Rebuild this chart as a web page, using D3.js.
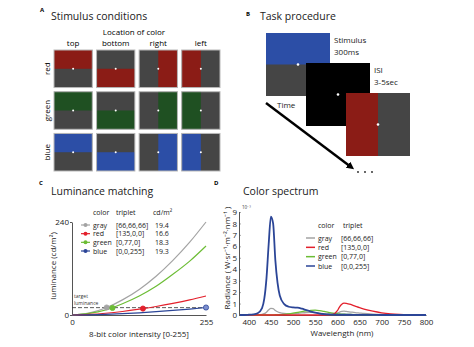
<!DOCTYPE html>
<html>
<head>
<meta charset="utf-8">
<script src="https://cdn.jsdelivr.net/npm/d3@7"></script>
<style>
  body { margin: 0; background: #fff; }
  svg { display: block; font-family: "Open Sans", sans-serif; }
</style>
</head>
<body>
<svg id="fig" width="474" height="347"></svg>
<script>
// ---------- data ----------
const stimRows = ["red", "green", "blue"];
const stimCols = ["top", "bottom", "right", "left"];

const seqFrames = ["stimulus", "isi", "stimulus"];
const seqColors = ["blue", "black", "red"];
const seqLocations = ["top", "full", "left"];
const seqLabels = [["Stimulus", "300ms"], ["ISI", "3-5sec"], []];

const lumIntensity = [0, 32, 64, 96, 128, 160, 192, 224, 255];
const lumGray  = [0, 5, 18, 39, 66, 100, 141, 188, 240];
const lumRed   = [0, 1.5, 4.5, 9, 15, 22, 30, 39, 49];
const lumGreen = [0, 4, 13, 29, 49, 74, 105, 139, 178];
const lumBlue  = [0, 0.5, 1.6, 3.3, 5.6, 8.5, 11.8, 15.4, 19.3];
const lumTicksX = [0, 255];
const lumTicksY = [0, 240];
const targetLum = 19;

const colorNames = ["gray", "red", "green", "blue"];
const colorTriplets = ["[66,66,66]", "[135,0,0]", "[0,77,0]", "[0,0,255]"];
const matchLum = [19.4, 16.6, 18.3, 19.3];
const matchIntensity = [66, 135, 77, 255];

const wavelengths = [380, 390, 400, 410, 420, 430, 435, 440, 445, 450, 455, 460, 465, 470, 480,
  490, 500, 510, 520, 530, 540, 550, 560, 570, 580, 590, 600, 605, 610, 615, 620, 630, 640, 650,
  660, 680, 700, 720, 740, 760, 780, 800];
const specGray = [0, 0, 0, 0.01, 0.02, 0.06, 0.12, 0.25, 0.45, 0.58, 0.55, 0.4, 0.28, 0.2, 0.13,
  0.11, 0.12, 0.15, 0.19, 0.22, 0.23, 0.21, 0.17, 0.12, 0.09, 0.1, 0.18, 0.26, 0.31, 0.33, 0.31, 0.26,
  0.21, 0.17, 0.13, 0.08, 0.05, 0.03, 0.02, 0.01, 0, 0];
const specRed = [0, 0, 0, 0, 0, 0, 0, 0, 0, 0, 0, 0, 0, 0, 0,
  0, 0, 0, 0, 0, 0, 0, 0, 0, 0.01, 0.06, 0.38, 0.72, 0.95, 1.04, 1.02, 0.92,
  0.78, 0.64, 0.52, 0.33, 0.19, 0.1, 0.05, 0.02, 0.01, 0];
const specGreen = [0, 0, 0, 0, 0, 0, 0, 0, 0.01, 0.01, 0.01, 0.02, 0.02, 0.03, 0.06,
  0.1, 0.16, 0.23, 0.3, 0.36, 0.41, 0.42, 0.38, 0.31, 0.23, 0.16, 0.11, 0.09, 0.08, 0.07, 0.06, 0.05,
  0.04, 0.03, 0.03, 0.02, 0.01, 0.01, 0, 0, 0, 0];
const specBlue = [0, 0, 0.02, 0.05, 0.15, 0.6, 1.4, 3.2, 6.2, 8.6, 8.0, 4.8, 2.8, 1.7, 0.95,
  0.72, 0.66, 0.64, 0.55, 0.42, 0.3, 0.2, 0.12, 0.08, 0.05, 0.03, 0.02, 0.02, 0.02, 0.02, 0.02, 0.02,
  0.01, 0.01, 0.01, 0.01, 0, 0, 0, 0, 0, 0];
const specTicksX = [400, 450, 500, 550, 600, 650, 700, 750, 800];
const specTicksY = [0, 1, 2, 3, 4, 5, 6, 7, 8, 9];

// colours
const stimFill = { red: "#8b1c16", green: "#1f5022", blue: "#2c4ea6", gray: "#454545", black: "#000" };
const lineColor = { gray: "#a3a3a3", red: "#e3202c", green: "#6cbd35", blue: "#2b4597" };

const svg = d3.select("#fig");

// helper: the coloured part of a screen
function colorPart(loc, w, h) {
  if (loc === "top") return { x: 0, y: 0, w: w, h: h / 2 };
  if (loc === "bottom") return { x: 0, y: h / 2, w: w, h: h / 2 };
  if (loc === "right") return { x: w / 2, y: 0, w: w / 2, h: h };
  if (loc === "left") return { x: 0, y: 0, w: w / 2, h: h };
  return { x: 0, y: 0, w: w, h: h };
}

function panelTitle(letter, lx, ly, title, tx, ty) {
  svg.append("text").attr("x", lx).attr("y", ly).attr("font-size", 6).attr("font-weight", "bold").text(letter);
  svg.append("text").attr("x", tx).attr("y", ty).attr("font-size", 10.5).attr("fill", "#222").text(title);
}

function styleAxis(g) {
  g.selectAll("text").attr("font-size", 8).attr("font-family", "Open Sans").attr("fill", "#222");
  g.selectAll("line, .domain").attr("stroke", "#555");
}

// ---------- A: stimulus conditions ----------
panelTitle("A", 40, 12, "Stimulus conditions", 51, 20);

const ax = d3.scaleBand().domain(stimCols).range([54, 220]).paddingInner(0.1);
const ay = d3.scaleBand().domain(stimRows).range([50, 171]).paddingInner(0.1);

svg.append("text").attr("x", 134).attr("y", 35).attr("text-anchor", "middle")
  .attr("font-size", 8).text("Location of color");

svg.selectAll("text.colname").data(stimCols).join("text")
  .attr("class", "colname")
  .attr("x", d => ax(d) + ax.bandwidth() / 2)
  .attr("y", 46)
  .attr("text-anchor", "middle")
  .attr("font-size", 8)
  .text(d => d);

svg.selectAll("text.rowname").data(stimRows).join("text")
  .attr("class", "rowname")
  .attr("transform", d => `translate(50,${ay(d) + ay.bandwidth() / 2}) rotate(-90)`)
  .attr("text-anchor", "middle")
  .attr("font-size", 8)
  .text(d => d);

const cells = stimRows.flatMap(r => stimCols.map(c => ({ row: r, col: c })));
const cell = svg.selectAll("g.cell").data(cells).join("g")
  .attr("class", "cell")
  .attr("transform", d => `translate(${ax(d.col)},${ay(d.row)})`);

const cw = ax.bandwidth(), ch = ay.bandwidth();
cell.append("rect").attr("width", cw).attr("height", ch).attr("fill", stimFill.gray);
cell.append("rect")
  .each(function(d) {
    const p = colorPart(d.col, cw, ch);
    d3.select(this).attr("x", p.x).attr("y", p.y).attr("width", p.w).attr("height", p.h);
  })
  .attr("fill", d => stimFill[d.row]);
cell.append("rect").attr("width", cw).attr("height", ch)
  .attr("fill", "none").attr("stroke", "#b8b8b8").attr("stroke-width", 1);
cell.append("circle").attr("cx", cw / 2).attr("cy", ch / 2).attr("r", 1).attr("fill", "#fff");

// ---------- B: task procedure ----------
panelTitle("B", 246, 16, "Task procedure", 260, 20);

const bx = d3.scaleLinear().domain([0, 2]).range([266, 346]);
const by = d3.scaleLinear().domain([0, 2]).range([33, 93]);
const fw = 64, fh = 63;

const frames = seqFrames.map((f, i) => ({ frame: f, color: seqColors[i], loc: seqLocations[i], label: seqLabels[i], i: i }));
const frame = svg.selectAll("g.frame").data(frames).join("g")
  .attr("class", "frame")
  .attr("transform", d => `translate(${bx(d.i)},${by(d.i)})`);

frame.append("rect").attr("width", fw).attr("height", fh)
  .attr("fill", d => d.frame === "isi" ? stimFill.black : stimFill.gray);
frame.append("rect")
  .each(function(d) {
    const p = colorPart(d.loc, fw, fh);
    d3.select(this).attr("x", p.x).attr("y", p.y).attr("width", p.w).attr("height", p.h);
  })
  .attr("fill", d => stimFill[d.color]);
frame.append("circle").attr("cx", fw / 2).attr("cy", fh / 2).attr("r", 1.3).attr("fill", "#fff");

frame.selectAll("text").data(d => d.label).join("text")
  .attr("x", fw + 4)
  .attr("y", (d, j) => 10 + j * 12)
  .attr("font-size", 8)
  .attr("fill", "#222")
  .text(d => d);

// time arrow
svg.append("defs").append("marker")
  .attr("id", "arrow").attr("viewBox", "0 0 10 10").attr("refX", 5).attr("refY", 5)
  .attr("markerWidth", 3.2).attr("markerHeight", 3.2).attr("orient", "auto")
  .append("path").attr("d", "M0,0L10,5L0,10z").attr("fill", "#000");
svg.append("line")
  .attr("x1", bx(0)).attr("y1", by(0) + fh + 7)
  .attr("x2", 351).attr("y2", 167)
  .attr("stroke", "#000").attr("stroke-width", 2.4)
  .attr("marker-end", "url(#arrow)");
svg.append("text").attr("x", 277).attr("y", 108).attr("font-size", 8).attr("fill", "#222").text("Time");
svg.selectAll("circle.more").data([0, 1, 2]).join("circle")
  .attr("class", "more")
  .attr("cx", d => 358 + d * 7).attr("cy", 172).attr("r", 0.9).attr("fill", "#222");

// ---------- C: luminance matching ----------
panelTitle("C", 39, 185, "Luminance matching", 51, 195);

const cx = d3.scaleLinear().domain([0, 255]).range([72, 206]);
const cy = d3.scaleLinear().domain([0, 240]).range([315, 222]);

svg.append("g").attr("transform", "translate(0,315)")
  .call(d3.axisBottom(cx).tickValues(lumTicksX).tickSize(0).tickPadding(4))
  .call(styleAxis);
svg.append("g").attr("transform", "translate(72,0)")
  .call(d3.axisLeft(cy).tickValues(lumTicksY).tickSizeInner(2).tickSizeOuter(0).tickPadding(1))
  .call(styleAxis);

svg.append("text").attr("x", 139).attr("y", 337).attr("text-anchor", "middle")
  .attr("font-size", 8).attr("fill", "#222").text("8-bit color intensity [0-255]");
svg.append("text").attr("transform", "translate(56,266) rotate(-90)").attr("text-anchor", "middle")
  .attr("font-size", 8).attr("fill", "#222").text("luminance (cd/m²)");

// target luminance
svg.append("line").attr("x1", cx(0)).attr("x2", cx(255)).attr("y1", cy(targetLum)).attr("y2", cy(targetLum))
  .attr("stroke", "#333").attr("stroke-width", 0.8).attr("stroke-dasharray", "4,2");
svg.append("text").attr("x", 74).attr("y", 298).attr("font-size", 5).attr("fill", "#333").text("target");
svg.append("text").attr("x", 74).attr("y", 305).attr("font-size", 5).attr("fill", "#333").text("luminance");

const lumSeries = [lumGray, lumRed, lumGreen, lumBlue];
const lumLine = d3.line().x((d, i) => cx(lumIntensity[i])).y(d => cy(d)).curve(d3.curveMonotoneX);
const lumOrder = [0, 2, 1, 3];
svg.selectAll("path.lum").data(lumOrder).join("path")
  .attr("class", "lum")
  .attr("d", k => lumLine(lumSeries[k]))
  .attr("fill", "none")
  .attr("stroke", k => lineColor[colorNames[k]])
  .attr("stroke-width", 1.2);

svg.selectAll("circle.match").data(colorNames).join("circle")
  .attr("class", "match")
  .attr("cx", (d, i) => cx(matchIntensity[i]))
  .attr("cy", (d, i) => cy(matchLum[i]))
  .attr("r", 2.6)
  .attr("fill", d => d === "blue" ? "#7d8fcf" : lineColor[d])
  .attr("stroke", d => lineColor[d])
  .attr("stroke-width", 0.8);

// legend C
const legC = svg.append("g").attr("font-size", 7).attr("fill", "#222");
legC.append("text").attr("x", 93).attr("y", 215).text("color");
legC.append("text").attr("x", 116).attr("y", 215).text("triplet");
legC.append("text").attr("x", 153).attr("y", 215).text("cd/m²");
const lcy = d3.scaleLinear().domain([0, 3]).range([225, 251]);
colorNames.forEach((c, i) => {
  const y = lcy(i);
  legC.append("line").attr("x1", 81).attr("x2", 90).attr("y1", y).attr("y2", y)
    .attr("stroke", lineColor[c]).attr("stroke-width", 1.2);
  legC.append("circle").attr("cx", 85.5).attr("cy", y).attr("r", 2).attr("fill", lineColor[c]);
  legC.append("text").attr("x", 93).attr("y", y + 2.5).text(c);
  legC.append("text").attr("x", 116).attr("y", y + 2.5).text(colorTriplets[i]);
  legC.append("text").attr("x", 155).attr("y", y + 2.5).text(matchLum[i].toFixed(1));
});

// ---------- D: color spectrum ----------
panelTitle("D", 214, 185, "Color spectrum", 243, 195);

const dx = d3.scaleLinear().domain([378, 800]).range([239, 426]);
const dy = d3.scaleLinear().domain([0, 9]).range([315, 212]);

svg.append("g").attr("transform", "translate(0,315)")
  .call(d3.axisBottom(dx).tickValues(specTicksX).tickSize(0).tickPadding(4))
  .call(styleAxis);
svg.append("g").attr("transform", "translate(239,0)")
  .call(d3.axisLeft(dy).tickValues(specTicksY).tickSizeInner(-1.5).tickSizeOuter(0).tickPadding(2))
  .call(styleAxis);

svg.append("text").attr("x", 242).attr("y", 209).attr("font-size", 4.5).attr("fill", "#333").text("10⁻³");
svg.append("text").attr("x", 342).attr("y", 336).attr("text-anchor", "middle")
  .attr("font-size", 8).attr("fill", "#222").text("Wavelength (nm)");
svg.append("text").attr("transform", "translate(230,258) rotate(-90)").attr("text-anchor", "middle")
  .attr("font-size", 8).attr("fill", "#222").text("Radiance ( W·sr⁻¹·m⁻²·nm⁻¹ )");

const specSeries = [specGray, specRed, specGreen, specBlue];
const specLine = d3.line().x((d, i) => dx(wavelengths[i])).y(d => dy(d)).curve(d3.curveMonotoneX);
const specOrder = [0, 2, 1, 3];
svg.selectAll("path.spec").data(specOrder).join("path")
  .attr("class", "spec")
  .attr("d", k => specLine(specSeries[k]))
  .attr("fill", "none")
  .attr("stroke", k => lineColor[colorNames[k]])
  .attr("stroke-width", k => k === 3 ? 1.8 : 1.3);

// legend D
const legD = svg.append("g").attr("font-size", 7).attr("fill", "#222");
legD.append("text").attr("x", 318).attr("y", 228).text("color");
legD.append("text").attr("x", 343).attr("y", 228).text("triplet");
const ldy = d3.scaleLinear().domain([0, 3]).range([238, 266]);
colorNames.forEach((c, i) => {
  const y = ldy(i);
  legD.append("line").attr("x1", 306).attr("x2", 315).attr("y1", y).attr("y2", y)
    .attr("stroke", lineColor[c]).attr("stroke-width", 1.5);
  legD.append("text").attr("x", 318).attr("y", y + 2.5).text(c);
  legD.append("text").attr("x", 341).attr("y", y + 2.5).text(colorTriplets[i]);
});
</script>
</body>
</html>
